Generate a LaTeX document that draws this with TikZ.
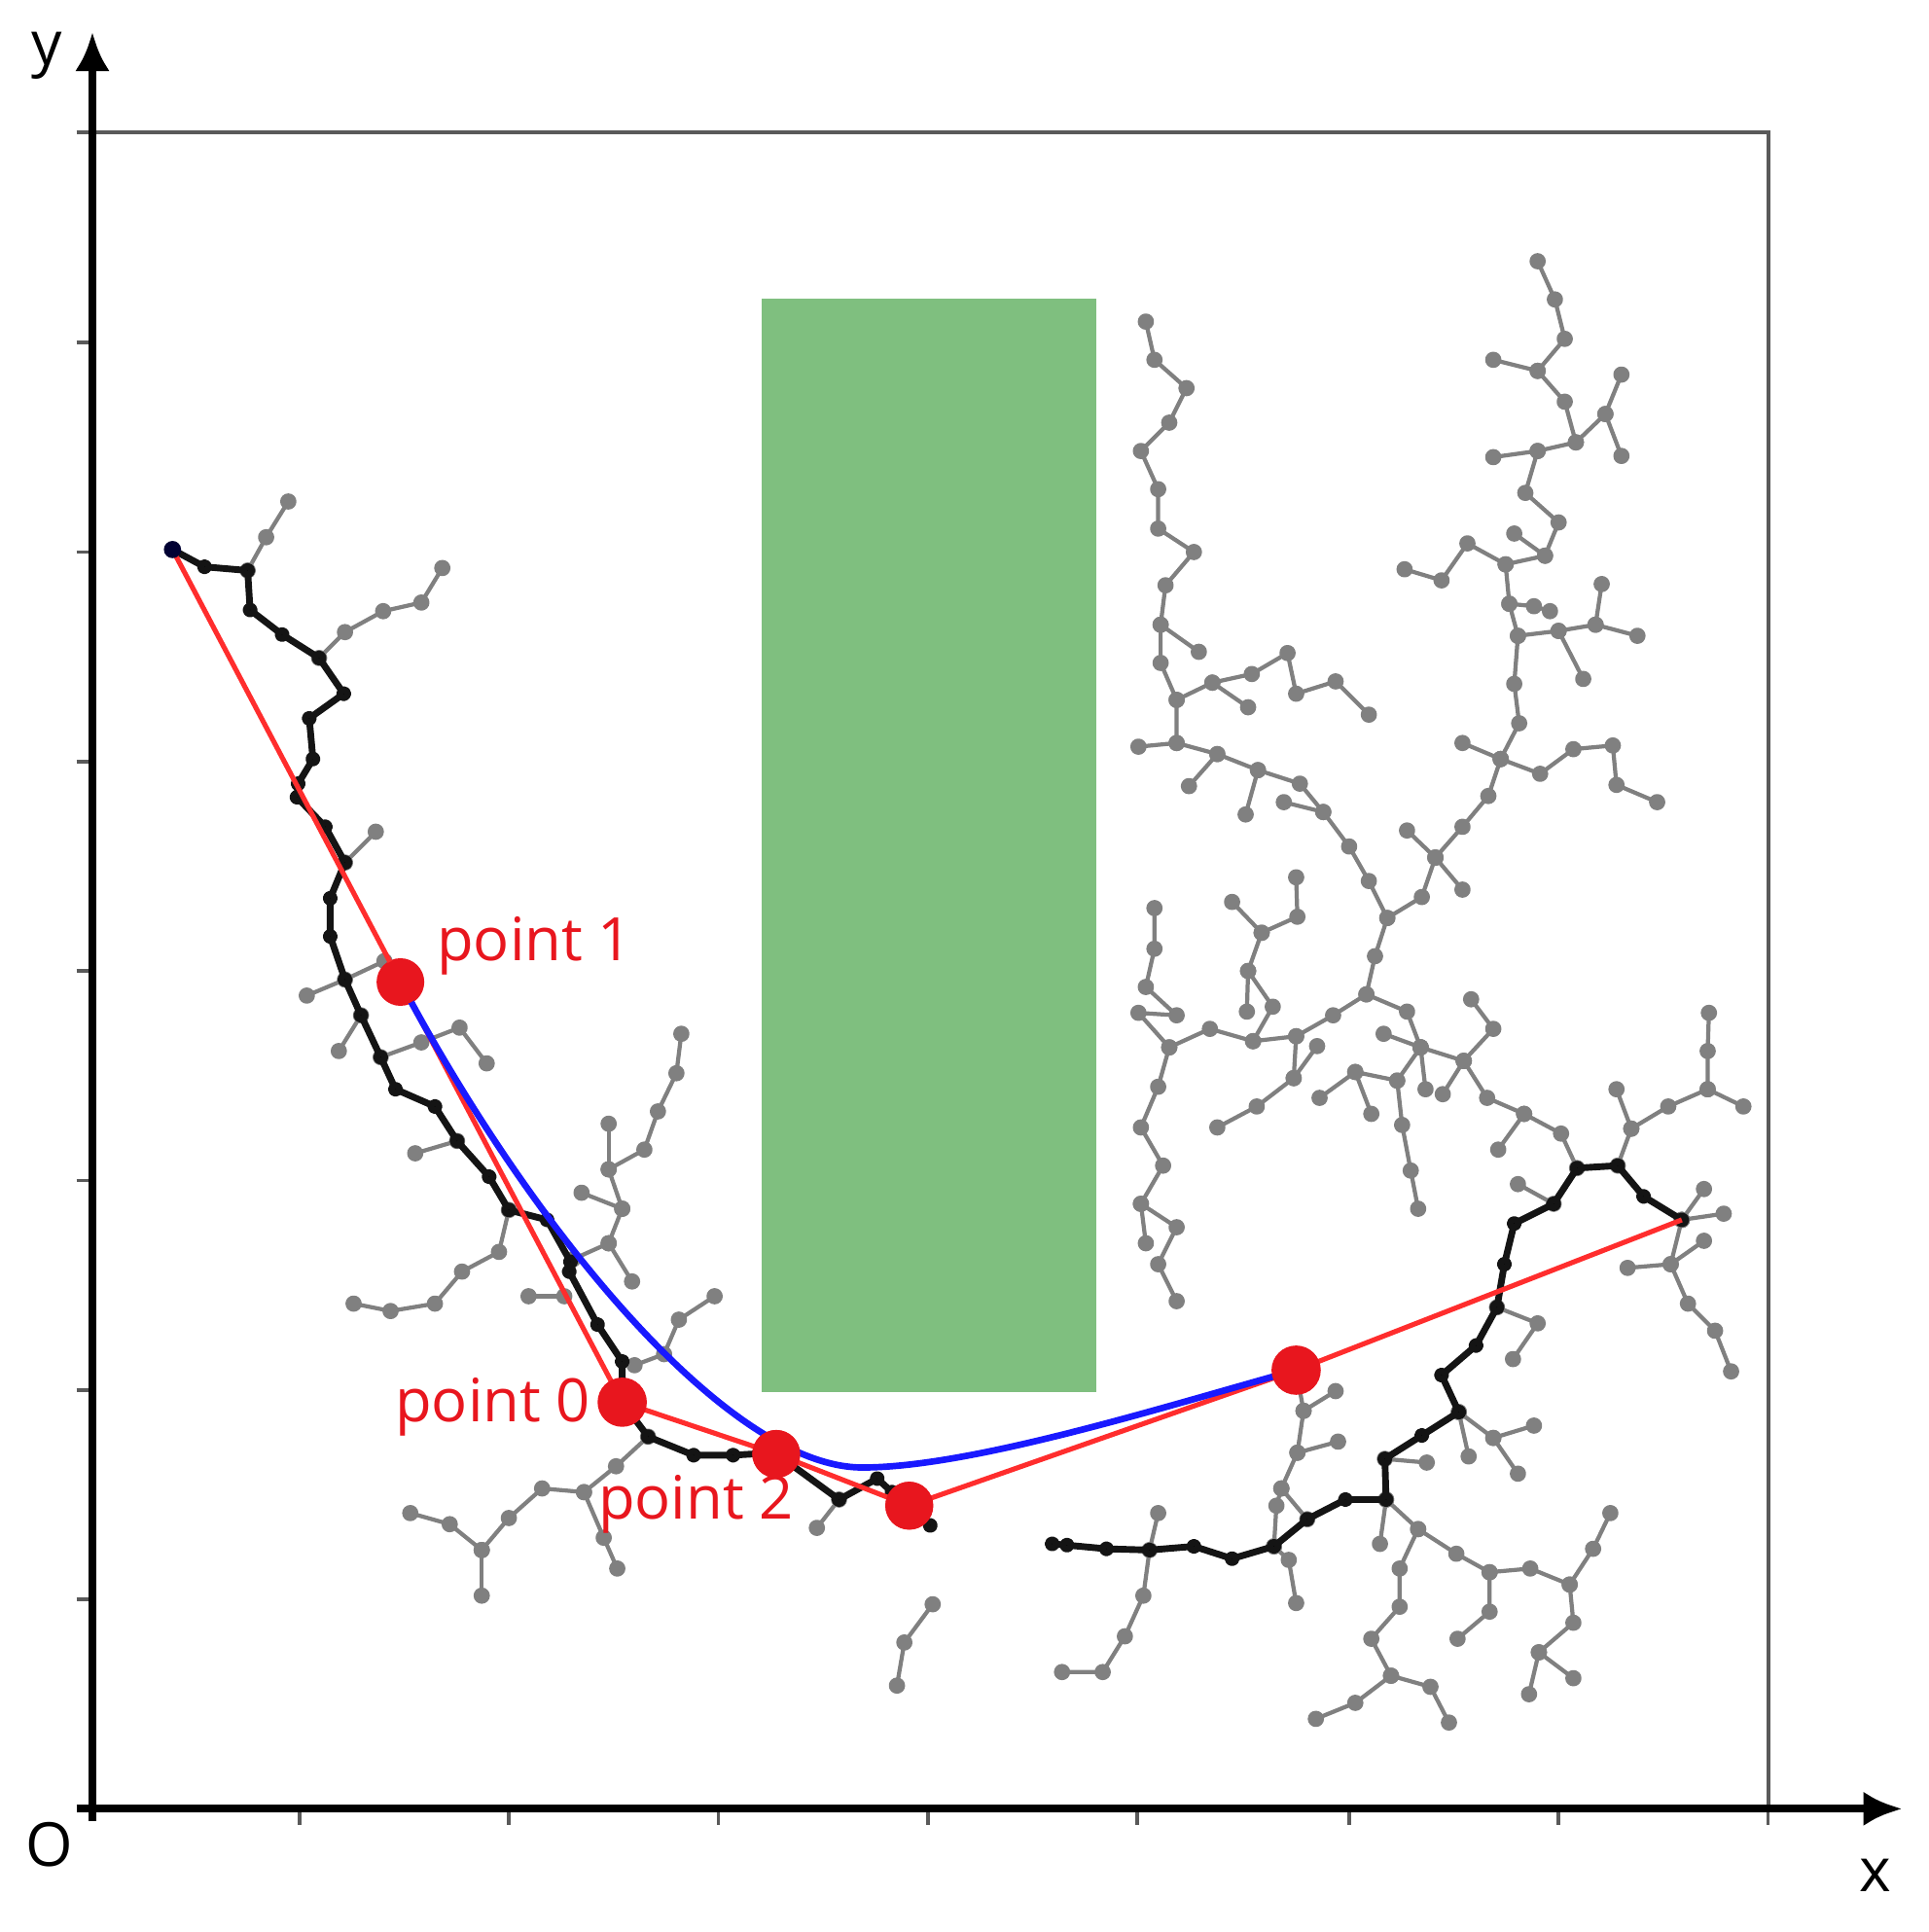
\documentclass[tikz,border=0pt]{standalone}
\usepackage{fontspec}
\setmainfont{Open Sans}
\usetikzlibrary{arrows.meta}
\definecolor{grn}{RGB}{127,191,127}
\definecolor{ptred}{RGB}{232,22,30}
\definecolor{lnred}{RGB}{255,45,45}
\definecolor{pathblue}{RGB}{25,25,255}
\definecolor{treegray}{RGB}{128,128,128}
\definecolor{boxgray}{RGB}{90,90,90}
\begin{document}
\begin{tikzpicture}[x=0.01cm,y=-0.01cm,
  treeg/.style={draw=treegray, line width=0.95pt, line join=round, mark=*, mark size=1.4pt, mark options={draw=none,fill=treegray}},
  treeb/.style={draw=black!92, line width=1.55pt, line join=round, mark=*, mark size=0.95pt, mark options={draw=none,fill=black}},
  axisline/.style={line width=1.8pt, -{Latex[length=9pt,width=8pt]}},
  tick/.style={line width=0.8pt, draw=boxgray},
  boxline/.style={line width=0.9pt, draw=boxgray},
  waypt/.style={circle, fill=ptred, inner sep=0pt, minimum size=11pt},
  lbl/.style={text=ptred, font=\fontsize{13.8}{16}\selectfont, inner sep=0pt},
  axlbl/.style={text=black, font=\fontsize{14}{16}\selectfont, inner sep=0pt}]
\useasboundingbox (0,0) rectangle (1565,1568);
% frame and ticks
\draw[boxline] (62,107) -- (1435,107) -- (1435,1468);
\foreach \yy in {278,448,618,788,958,1128,1298} \draw[tick] (62,\yy) -- (75,\yy);
\foreach \xx in {243,413,583,753,923,1095,1265,1435} \draw[tick] (\xx,1468) -- (\xx,1481);
% obstacle
\fill[grn] (618,242) rectangle (890,1130);
% grey tree branches, left tree
\draw[treeg] plot coordinates {(201,463) (216,436) (234,407)};
\draw[treeg] plot coordinates {(259,534) (280,513) (311,496) (342,489) (359,461)};
\draw[treeg] plot coordinates {(280,700) (305,675)};
\draw[treeg] plot coordinates {(249,808) (280,795) (312,780)};
\draw[treeg] plot coordinates {(293,824) (275,853)};
\draw[treeg] plot coordinates {(309,858) (342,846) (373,834) (395,863)};
\draw[treeg] plot coordinates {(371,926) (337,936)};
\draw[treeg] plot coordinates {(553,839) (549,871) (534,902) (523,933) (494,949) (505,981) (494,1009) (513,1040)};
\draw[treeg] plot coordinates {(494,949) (494,912)};
\draw[treeg] plot coordinates {(505,981) (472,968)};
\draw[treeg] plot coordinates {(494,1009) (465,1022)};
\draw[treeg] plot coordinates {(580,1052) (551,1071) (539,1099) (515,1108)};
\draw[treeg] plot coordinates {(458,1052) (429,1052)};
\draw[treeg] plot coordinates {(413,982) (405,1016) (375,1032) (353,1058) (317,1064) (287,1058)};
\draw[treeg] plot coordinates {(526,1166) (500,1190) (474,1211) (440,1208) (413,1232) (391,1258) (365,1237) (333,1228)};
\draw[treeg] plot coordinates {(391,1258) (391,1295)};
\draw[treeg] plot coordinates {(474,1211) (490,1248) (501,1273)};
\draw[treeg] plot coordinates {(681,1217) (663,1240)};
\draw[treeg] plot coordinates {(757,1302) (734,1333) (728,1368)};
% grey tree branches, right tree
\draw[treeg] plot coordinates {(1248,212) (1262,243) (1270,275) (1248,301) (1270,326) (1279,359) (1248,366) (1238,400) (1265,424) (1254,451) (1222,458) (1225,490) (1232,516) (1229,555) (1233,587) (1218,616) (1208,646) (1187,671) (1165,696) (1154,728) (1126,745) (1116,776) (1109,807) (1082,824) (1052,841) (1017,845) (982,835) (949,850) (924,822) (955,824) (930,801) (937,770) (937,737)};
\draw[treeg] plot coordinates {(1248,301) (1212,292)};
\draw[treeg] plot coordinates {(1279,359) (1303,336) (1316,304)};
\draw[treeg] plot coordinates {(1303,336) (1316,370)};
\draw[treeg] plot coordinates {(1248,366) (1212,371)};
\draw[treeg] plot coordinates {(1254,451) (1229,433)};
\draw[treeg] plot coordinates {(1222,458) (1191,441) (1170,471) (1140,462)};
\draw[treeg] plot coordinates {(1225,490) (1245,492) (1258,496)};
\draw[treeg] plot coordinates {(1232,516) (1265,512) (1295,507) (1329,516)};
\draw[treeg] plot coordinates {(1265,512) (1285,551)};
\draw[treeg] plot coordinates {(1295,507) (1300,474)};
\draw[treeg] plot coordinates {(1218,616) (1187,603)};
\draw[treeg] plot coordinates {(1218,616) (1250,628) (1277,608) (1309,605) (1312,637) (1345,651)};
\draw[treeg] plot coordinates {(1165,696) (1142,674)};
\draw[treeg] plot coordinates {(1165,696) (1187,722)};
\draw[treeg] plot coordinates {(930,261) (937,292) (963,315) (949,343) (926,366) (940,397) (940,429) (969,448) (946,475) (942,507) (942,538) (955,568) (955,603) (988,612) (1021,625) (1055,636) (1074,659) (1095,687) (1111,715) (1126,745)};
\draw[treeg] plot coordinates {(942,507) (973,529)};
\draw[treeg] plot coordinates {(955,568) (984,554) (1016,547) (1045,530) (1052,563) (1084,553) (1111,580)};
\draw[treeg] plot coordinates {(984,554) (1013,574)};
\draw[treeg] plot coordinates {(955,603) (924,606)};
\draw[treeg] plot coordinates {(988,612) (965,638)};
\draw[treeg] plot coordinates {(1021,625) (1011,661)};
\draw[treeg] plot coordinates {(1074,659) (1042,651)};
\draw[treeg] plot coordinates {(949,850) (940,882) (926,915) (944,946) (926,977) (955,996) (940,1026) (955,1056)};
\draw[treeg] plot coordinates {(926,977) (930,1009)};
\draw[treeg] plot coordinates {(1017,845) (1033,817) (1013,788) (1024,757) (1000,732)};
\draw[treeg] plot coordinates {(1013,788) (1012,821)};
\draw[treeg] plot coordinates {(1024,757) (1053,744) (1052,712)};
\draw[treeg] plot coordinates {(1052,841) (1050,875) (1020,898) (988,915)};
\draw[treeg] plot coordinates {(1050,875) (1069,849)};
\draw[treeg] plot coordinates {(1109,807) (1142,821) (1153,850) (1188,861) (1212,835) (1194,811)};
\draw[treeg] plot coordinates {(1153,850) (1123,839)};
\draw[treeg] plot coordinates {(1153,850) (1134,877) (1138,913) (1145,950) (1151,981)};
\draw[treeg] plot coordinates {(1134,877) (1100,870) (1071,891)};
\draw[treeg] plot coordinates {(1100,870) (1113,904)};
\draw[treeg] plot coordinates {(1153,850) (1157,884)};
\draw[treeg] plot coordinates {(1188,861) (1171,888)};
\draw[treeg] plot coordinates {(1188,861) (1207,891) (1237,904) (1267,920) (1280,948)};
\draw[treeg] plot coordinates {(1237,904) (1216,933)};
\draw[treeg] plot coordinates {(1313,946) (1324,916) (1354,898) (1386,884) (1415,898)};
\draw[treeg] plot coordinates {(1386,884) (1386,853) (1387,822)};
\draw[treeg] plot coordinates {(1324,916) (1312,884)};
\draw[treeg] plot coordinates {(1365,990) (1383,965)};
\draw[treeg] plot coordinates {(1365,990) (1399,985)};
\draw[treeg] plot coordinates {(1365,990) (1356,1026) (1370,1058) (1392,1080) (1405,1113)};
\draw[treeg] plot coordinates {(1383,1007) (1356,1026) (1321,1029)};
\draw[treeg] plot coordinates {(1261,977) (1232,961)};
\draw[treeg] plot coordinates {(1215,1061) (1248,1074) (1228,1103)};
\draw[treeg] plot coordinates {(1124,1184) (1158,1187)};
\draw[treeg] plot coordinates {(1184,1146) (1192,1182)};
\draw[treeg] plot coordinates {(1184,1146) (1212,1167) (1245,1157)};
\draw[treeg] plot coordinates {(1212,1167) (1232,1196)};
\draw[treeg] plot coordinates {(1125,1217) (1120,1253)};
\draw[treeg] plot coordinates {(1125,1217) (1151,1241) (1182,1261) (1209,1276) (1242,1273) (1274,1286) (1293,1257) (1307,1228)};
\draw[treeg] plot coordinates {(1274,1286) (1277,1317) (1249,1341) (1241,1375)};
\draw[treeg] plot coordinates {(1249,1341) (1277,1362)};
\draw[treeg] plot coordinates {(1209,1276) (1209,1308) (1183,1330)};
\draw[treeg] plot coordinates {(1151,1241) (1136,1273) (1136,1304) (1113,1330) (1129,1360) (1161,1369) (1176,1398)};
\draw[treeg] plot coordinates {(1129,1360) (1100,1382) (1068,1395)};
\draw[treeg] plot coordinates {(1052,1112) (1058,1145) (1053,1179) (1040,1208) (1036,1222) (1034,1255)};
\draw[treeg] plot coordinates {(1058,1145) (1084,1129)};
\draw[treeg] plot coordinates {(1053,1179) (1086,1170)};
\draw[treeg] plot coordinates {(1040,1208) (1061,1233)};
\draw[treeg] plot coordinates {(1034,1255) (1046,1266) (1052,1301)};
\draw[treeg] plot coordinates {(940,1228) (933,1258) (928,1295) (913,1328) (895,1357) (862,1357)};
% black tree paths
\draw[treeb] plot coordinates {(140,446) (166,460) (201,463) (203,495) (229,515) (259,534) (279,563) (251,583) (254,616) (242,636) (241,647) (264,671) (280,700) (268,729) (268,760) (280,795) (293,824) (309,858) (321,884) (353,898) (371,926) (397,955) (413,982) (444,990) (463,1024) (462,1032) (485,1075) (505,1105) (505,1138) (526,1166) (563,1181) (595,1181) (629,1179) (681,1217) (712,1200) (724,1211) (738,1222) (755,1238)};
\draw[treeb] plot coordinates {(854,1253) (866,1254) (898,1257) (933,1258) (969,1255) (1000,1265) (1034,1255) (1061,1233) (1092,1217) (1125,1217) (1124,1184) (1154,1165) (1184,1146) (1170,1116) (1198,1092) (1215,1061) (1221,1026) (1229,993) (1261,977) (1280,948) (1313,946) (1334,971) (1365,990)};
% way points
\node[waypt] (p1) at (325,797) {};
\node[waypt] (p0) at (505,1138) {};
\node[waypt] (p2) at (630,1180) {};
\node[waypt] (p3) at (738,1222) {};
\node[waypt] (p4) at (1052,1112) {};
\coordinate (start) at (140,446);
\coordinate (goal) at (1365,990);
% red polyline
\draw[lnred, line width=1.15pt, line join=round] (start) -- (p0.center) -- (p2.center) -- (p3.center) -- (p4.center) -- (goal);
% blue smoothed path
\draw[pathblue, line width=1.5pt] (p1.center) .. controls (430,995) and (590,1191) .. (700,1191) .. controls (790,1191) and (950,1140) .. (p4.center);
% points on top
\fill[ptred] (p1) circle (18.5);
\fill[ptred] (p0) circle (20);
\fill[ptred] (p2) circle (19.5);
\fill[ptred] (p3) circle (19.5);
\fill[ptred] (p4) circle (20);
\fill[black!80!blue] (start) circle (7);
% labels
\node[lbl, anchor=base west] (l1) at (354,780) {point 1};
\node[lbl, anchor=base west] (l0) at (320,1154) {point 0};
\node[lbl, anchor=base west] (l2) at (485,1233) {point 2};
% axes
\draw[axisline] (75,1478) -- (75,26);
\draw[axisline] (62,1468) -- (1544,1468);
\node[axlbl] (ylab) at (38,45) {y};
\node[axlbl] (olab) at (40,1497) {O};
\node[axlbl] (xlab) at (1522,1522) {x};
\end{tikzpicture}
\end{document}
